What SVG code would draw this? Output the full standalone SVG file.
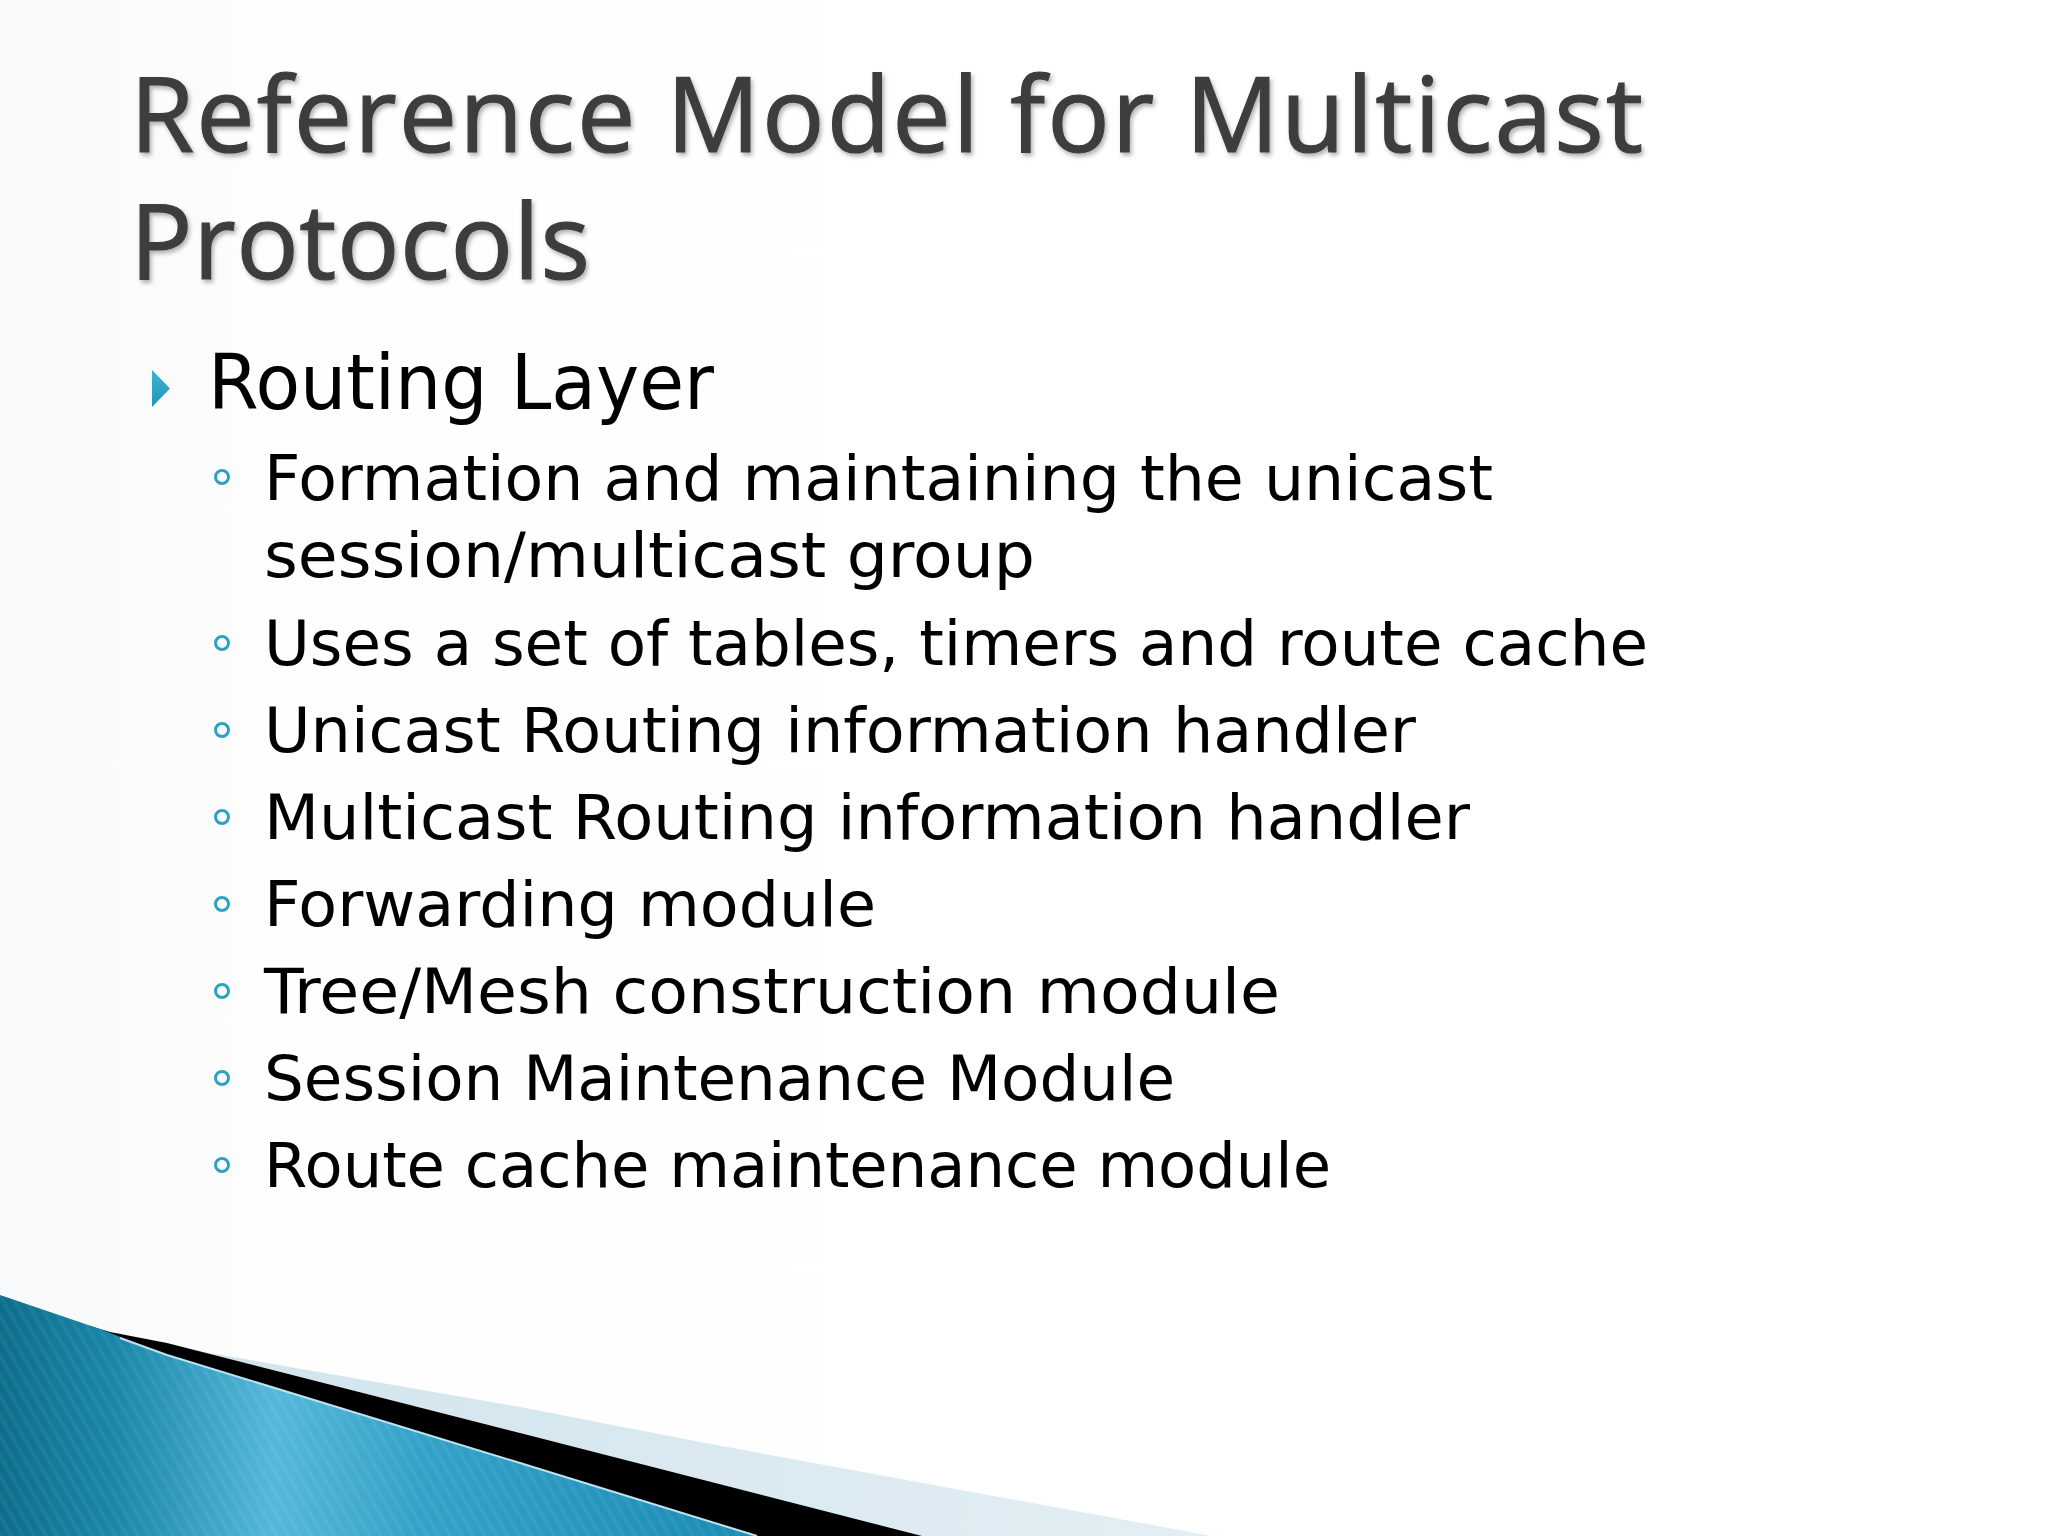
<svg xmlns="http://www.w3.org/2000/svg" width="2048" height="1536" viewBox="0 0 2048 1536">
  <defs>
    <linearGradient id="bg" x1="0" y1="0" x2="2048" y2="0" gradientUnits="userSpaceOnUse">
      <stop offset="0" stop-color="#f8f9fa"/>
      <stop offset="0.11" stop-color="#fcfcfd"/>
      <stop offset="0.12" stop-color="#fefefe"/>
      <stop offset="1" stop-color="#ffffff"/>
    </linearGradient>
    <linearGradient id="blue" x1="0" y1="0" x2="760" y2="0" gradientUnits="userSpaceOnUse">
      <stop offset="0" stop-color="#0e6e8b"/>
      <stop offset="0.15" stop-color="#1986a8"/>
      <stop offset="0.36" stop-color="#55b8da"/>
      <stop offset="0.55" stop-color="#34a2c8"/>
      <stop offset="1" stop-color="#1a8bb3"/>
    </linearGradient>
    <linearGradient id="pale" x1="100" y1="0" x2="1210" y2="0" gradientUnits="userSpaceOnUse">
      <stop offset="0" stop-color="#cfe3ec"/>
      <stop offset="1" stop-color="#e3eef4"/>
    </linearGradient>
    <linearGradient id="tri" x1="0" y1="0" x2="0" y2="1">
      <stop offset="0" stop-color="#3fb4d2"/>
      <stop offset="1" stop-color="#1f93b5"/>
    </linearGradient>
    <pattern id="stripes" width="10" height="10" patternUnits="userSpaceOnUse" patternTransform="rotate(-30)">
      <rect x="0" y="0" width="4" height="10" fill="#ffffff" opacity="0.05"/>
    </pattern>
    <filter id="shadow" x="-5%" y="-20%" width="110%" height="150%">
      <feDropShadow dx="2" dy="3" stdDeviation="2" flood-color="#000000" flood-opacity="0.3"/>
    </filter>
    <style>
      .title { font-family: "Open Sans", "Liberation Sans", sans-serif; font-size: 104px; fill: #3d3d3d; stroke: #3d3d3d; stroke-width: 1.2; }
      .lvl1 { font-family: "DejaVu Sans", "Liberation Sans", sans-serif; font-size: 77px; fill: #000000; }
      .lvl2 { font-family: "DejaVu Sans", "Liberation Sans", sans-serif; font-size: 62px; fill: #000000; }
      .ring { fill: none; stroke: #2ba2c3; stroke-width: 3; }
    </style>
  </defs>

  <rect x="0" y="0" width="2048" height="1536" fill="url(#bg)"/>

  <g id="decoration">
    <path d="M100,1331 L170,1346 L520,1407 L700,1442 L1212,1536 L0,1536 Z" fill="url(#pale)"/>
    <path d="M90,1326 L110,1332 L167,1343 L520,1433 L922,1536 L0,1536 Z" fill="#000000"/>
    <path d="M0,1295 L100,1329 L167,1355 L520,1463 L757,1536 L0,1536 Z" fill="url(#blue)"/>
    <path d="M0,1295 L100,1329 L167,1355 L520,1463 L757,1536 L0,1536 Z" fill="url(#stripes)"/>
    <path d="M120,1338 L167,1355 L520,1463 L757,1536" fill="none" stroke="#bfe2ef" stroke-width="2"/>
  </g>

  <g id="title" filter="url(#shadow)">
    <text class="title" x="130" y="152" textLength="1513" lengthAdjust="spacing">Reference Model for Multicast</text>
    <text class="title" x="130" y="279" textLength="460" lengthAdjust="spacing">Protocols</text>
  </g>

  <g id="level1">
    <polygon points="152,370 170,388.5 152,407" fill="url(#tri)"/>
    <text class="lvl1" x="208" y="409" textLength="506" lengthAdjust="spacingAndGlyphs">Routing Layer</text>
  </g>

  <g id="items">
    <circle class="ring" cx="222" cy="477" r="6.5"/>
    <text class="lvl2" x="264" y="500" textLength="1229" lengthAdjust="spacingAndGlyphs">Formation and maintaining the unicast</text>
    <text class="lvl2" x="264" y="577" textLength="771" lengthAdjust="spacingAndGlyphs">session/multicast group</text>

    <circle class="ring" cx="222" cy="643" r="6.5"/>
    <text class="lvl2" x="264" y="665" textLength="1384" lengthAdjust="spacingAndGlyphs">Uses a set of tables, timers and route cache</text>

    <circle class="ring" cx="222" cy="730" r="6.5"/>
    <text class="lvl2" x="264" y="752" textLength="1152" lengthAdjust="spacingAndGlyphs">Unicast Routing information handler</text>

    <circle class="ring" cx="222" cy="817" r="6.5"/>
    <text class="lvl2" x="264" y="839" textLength="1206" lengthAdjust="spacingAndGlyphs">Multicast Routing information handler</text>

    <circle class="ring" cx="222" cy="904" r="6.5"/>
    <text class="lvl2" x="264" y="926" textLength="612" lengthAdjust="spacingAndGlyphs">Forwarding module</text>

    <circle class="ring" cx="222" cy="991" r="6.5"/>
    <text class="lvl2" x="264" y="1013" textLength="1016" lengthAdjust="spacingAndGlyphs">Tree/Mesh construction module</text>

    <circle class="ring" cx="222" cy="1078" r="6.5"/>
    <text class="lvl2" x="264" y="1100" textLength="911" lengthAdjust="spacingAndGlyphs">Session Maintenance Module</text>

    <circle class="ring" cx="222" cy="1165" r="6.5"/>
    <text class="lvl2" x="264" y="1187" textLength="1067" lengthAdjust="spacingAndGlyphs">Route cache maintenance module</text>
  </g>
</svg>
